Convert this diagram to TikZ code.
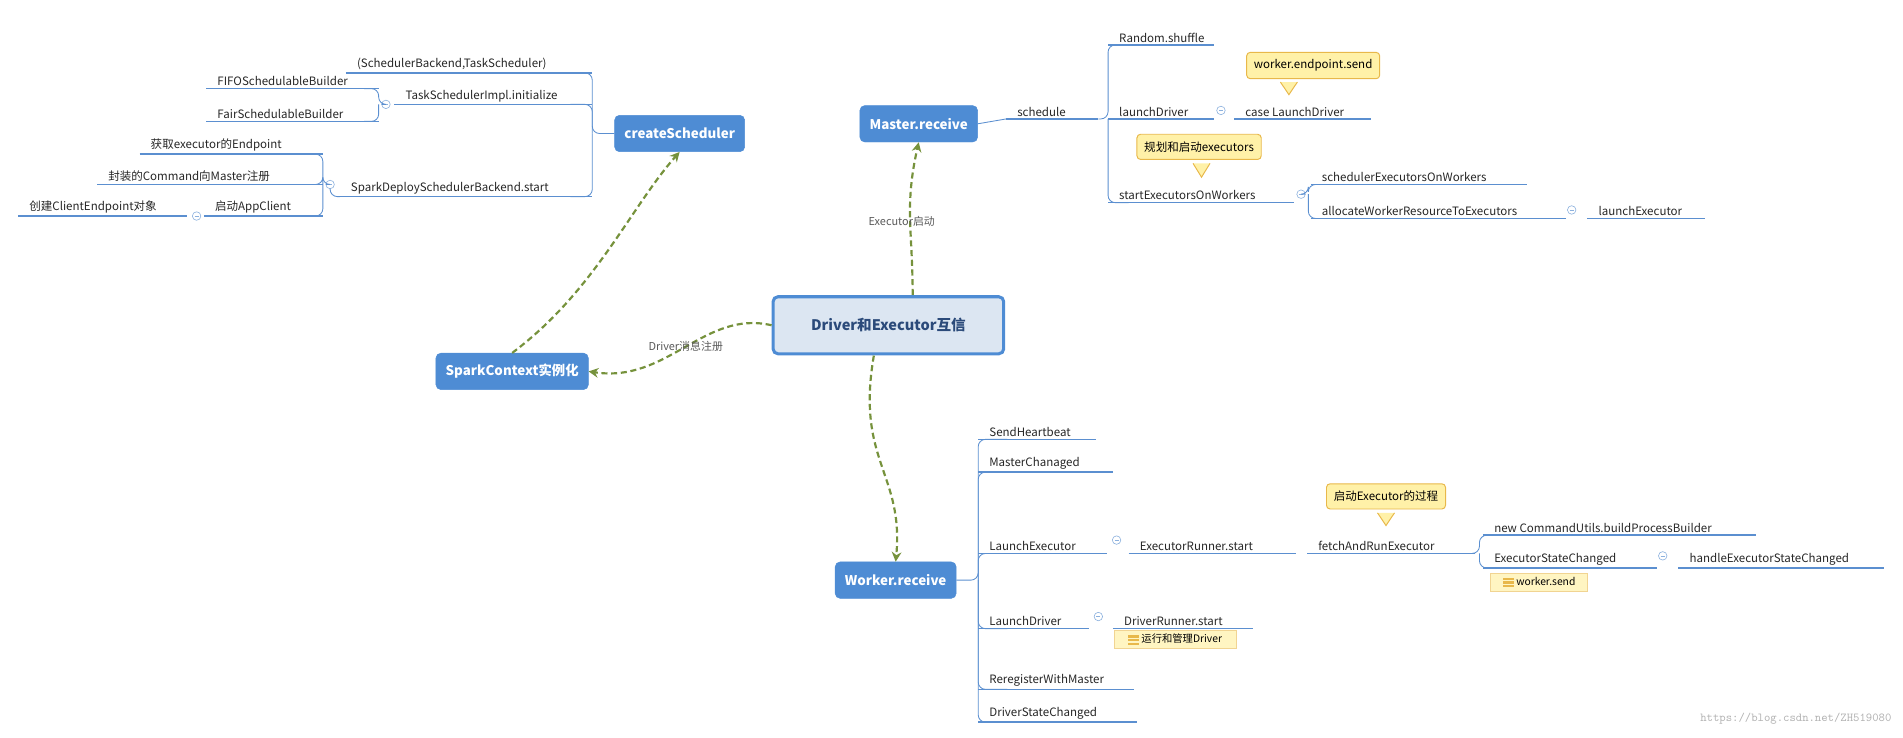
\documentclass[tikz,border=0pt]{standalone}
\usepackage{fontspec}
\setmainfont{Noto Sans CJK SC}
\usetikzlibrary{arrows.meta}
\begin{document}
\definecolor{bl}{HTML}{4E8CD4}
\definecolor{ln}{HTML}{5B8FD0}
\definecolor{ol}{HTML}{76923C}
\definecolor{cf}{HTML}{DCE6F2}
\definecolor{ct}{HTML}{2B4A7A}
\definecolor{yl}{HTML}{FFF1A8}
\definecolor{yb}{HTML}{E8B84A}
\begin{tikzpicture}[x=1pt,y=-1pt,
  txt/.style={anchor=south west,inner sep=1pt,font=\fontsize{9.5}{11}\selectfont,text=black!85},
  ul/.style={draw=ln,line width=1.3pt},
  br/.style={draw=ln,line width=0.7pt,rounded corners=6},
  main/.style={fill=bl,draw=bl,rounded corners=4,text=white,font=\fontsize{11}{13}\bfseries,minimum height=30,inner xsep=8},
  arr/.style={draw=ol,line width=1.8pt,dash pattern=on 5pt off 3pt,-{Stealth[length=8pt,width=8pt]}},
  lab/.style={font=\fontsize{9}{11}\itshape\selectfont,text=black!65},
  minuscirc/.style={circle,draw=ln!70,line width=0.5pt,inner sep=0,minimum size=7,fill=white,path picture={\draw[ln!70,line width=0.5pt](path picture bounding box.west)++(1.8,0)--++(3.4,0);}},
  call/.style={fill=yl,draw=yb,line width=0.8pt,rounded corners=3,font=\fontsize{9.5}{11}\selectfont,inner sep=6},
  note/.style={fill=yl!70,draw=yb!60,line width=0.5pt,font=\fontsize{8.5}{10}\selectfont,inner sep=3,anchor=north west}]
\useasboundingbox (0,0) rectangle (1568,608);
\newcommand\lf[5]{\node[txt] (#1) at (#2+8,#4-1) {#5}; \draw[ul] (#2,#4)--(#3,#4);}
\newcommand\cmk[3]{\node[minuscirc] (#1) at (#2,#3) {};}
\newcommand\ntxt[1]{\tikz[baseline=-3pt]{\fill[yb](0,0) rectangle (9pt,-2pt);\fill[yb](0,-3pt) rectangle (9pt,-5pt);\fill[yb](0,1pt) rectangle (9pt,3pt);}\ #1}

% main nodes
\node[fill=cf,draw=bl,line width=2.5pt,rounded corners=4,minimum width=190,minimum height=47,text=ct,font=\fontsize{12}{14}\bfseries] (c) at (732,268) {Driver和Executor互信};
\node[main] (cs) at (560,110) {createScheduler};
\node[main] (mr) at (757,102) {Master.receive};
\node[main] (sc) at (422,306) {SparkContext实例化};
\node[main] (wr) at (738,478) {Worker.receive};

% dashed arrows
\draw[arr] (752,243) .. controls (752,190) and (745,170) .. (mr.south);
\node[lab] (l1) at (743,182) {Executor启动};
\draw[arr] (c.west) .. controls (580,255) and (550,316) .. (sc.east);
\node[lab] (l2) at (565,285) {Driver消息注册};
\draw[arr] (sc.north) .. controls (490,240) and (520,170) .. (cs.south);
\draw[arr] (720,293) .. controls (705,380) and (745,390) .. (wr.north);

% createScheduler tree
\draw[br] (cs.west) -- (488,110) |- (470,60);
\draw[br] (488,110) |- (470,86);
\draw[br] (488,110) |- (470,162);
\lf{a1}{285}{488}{60}{(SchedulerBackend,TaskScheduler)}
\lf{a2}{325}{488}{86}{TaskSchedulerImpl.initialize}
\cmk{k1}{318}{86}
\draw[br] (314.5,86) -- (312,86) |- (300,73);
\draw[br] (312,86) |- (300,100);
\lf{a3}{170}{312}{73}{FIFOSchedulableBuilder}
\lf{a4}{170}{312}{100}{FairSchedulableBuilder}
\lf{a5}{280}{488}{162}{SparkDeploySchedulerBackend.start}
\cmk{k2}{272}{152}
\draw[br] (272,155.5) -- (272,162) -- (280,162);
\draw[br] (268.5,152) -- (266,152) |- (250,127);
\draw[br] (266,152) |- (250,152);
\draw[br] (266,152) |- (250,178);
\lf{a6}{115}{266}{127}{获取executor的Endpoint}
\lf{a7}{80}{266}{152}{封装的Command向Master注册}
\lf{a8}{168}{266}{178}{启动AppClient}
\cmk{k3}{162}{178}
\lf{a9}{15}{154}{178}{创建ClientEndpoint对象}

% Master tree
\draw[ln,line width=0.7pt] (mr.east) -- (829,98);
\lf{b1}{829}{905}{98}{schedule}
\draw[br] (905,98) -- (913,98) |- (930,37);
\draw[br] (913,98) |- (930,167);
\lf{b2}{913}{1000}{37}{Random.shuffle}
\lf{b3}{913}{1000}{98}{launchDriver}
\cmk{k4}{1006}{91}
\lf{b4}{1017}{1130}{98}{case LaunchDriver}
\lf{b5}{913}{1066}{167}{startExecutorsOnWorkers}
\cmk{k5}{1072}{160}
\draw[br] (1075.5,160) -- (1078,160) |- (1090,152);
\draw[br] (1078,160) |- (1090,180);
\lf{b6}{1080}{1258}{152}{schedulerExecutorsOnWorkers}
\lf{b7}{1080}{1290}{180}{allocateWorkerResourceToExecutors}
\cmk{k6}{1295}{173}
\lf{b8}{1308}{1405}{180}{launchExecutor}
\node[call] (n1) at (1082,54) {worker.endpoint.send};
\fill[yl,draw=yb,line width=0.8pt] (1055,67.6)--(1062,78)--(1069,67.6);
\node[call] (n2) at (988,121) {规划和启动executors};
\fill[yl,draw=yb,line width=0.8pt] (983,134.6)--(990,146)--(997,134.6);

% Worker tree
\draw[br] (wr.east) -- (806,478) |- (830,362);
\draw[br] (806,478) |- (830,595);
\foreach \yy in {389,456,518,568} \draw[br] (806,478) |- (830,\yy);
\lf{w1}{806}{903}{362}{SendHeartbeat}
\lf{w2}{806}{917}{389}{MasterChanaged}
\lf{w3}{806}{912}{456}{LaunchExecutor}
\cmk{k7}{920}{445}
\lf{w4}{930}{1068}{456}{ExecutorRunner.start}
\lf{w5}{1077}{1215}{456}{fetchAndRunExecutor}
\draw[br] (1215,456) -- (1219,456) |- (1232,441);
\draw[br] (1219,456) |- (1232,468);
\lf{w6}{1222}{1447}{441}{new CommandUtils.buildProcessBuilder}
\lf{w7}{1222}{1365}{468}{ExecutorStateChanged}
\cmk{k8}{1370}{458}
\lf{w8}{1383}{1552}{468}{handleExecutorStateChanged}
\node[call] (n3) at (1142,409) {启动Executor的过程};
\fill[yl,draw=yb,line width=0.8pt] (1135,422.6)--(1142,433)--(1149,422.6);
\node[note,minimum width=80] (n4) at (1228,472) {\ntxt{worker.send}};
\lf{w9}{806}{897}{518}{LaunchDriver}
\cmk{k9}{905}{508}
\lf{w10}{917}{1032}{518}{DriverRunner.start}
\node[note,minimum width=100] (n5) at (918,519) {\ntxt{运行和管理Driver}};
\lf{w11}{806}{934}{568}{ReregisterWithMaster}
\lf{w12}{806}{937}{595}{DriverStateChanged}

\node[anchor=south east,font=\ttfamily\fontsize{10}{12}\selectfont,text=black!30] (wm) at (1562,600) {https://blog.csdn.net/ZH519080};
\end{tikzpicture}
\end{document}
